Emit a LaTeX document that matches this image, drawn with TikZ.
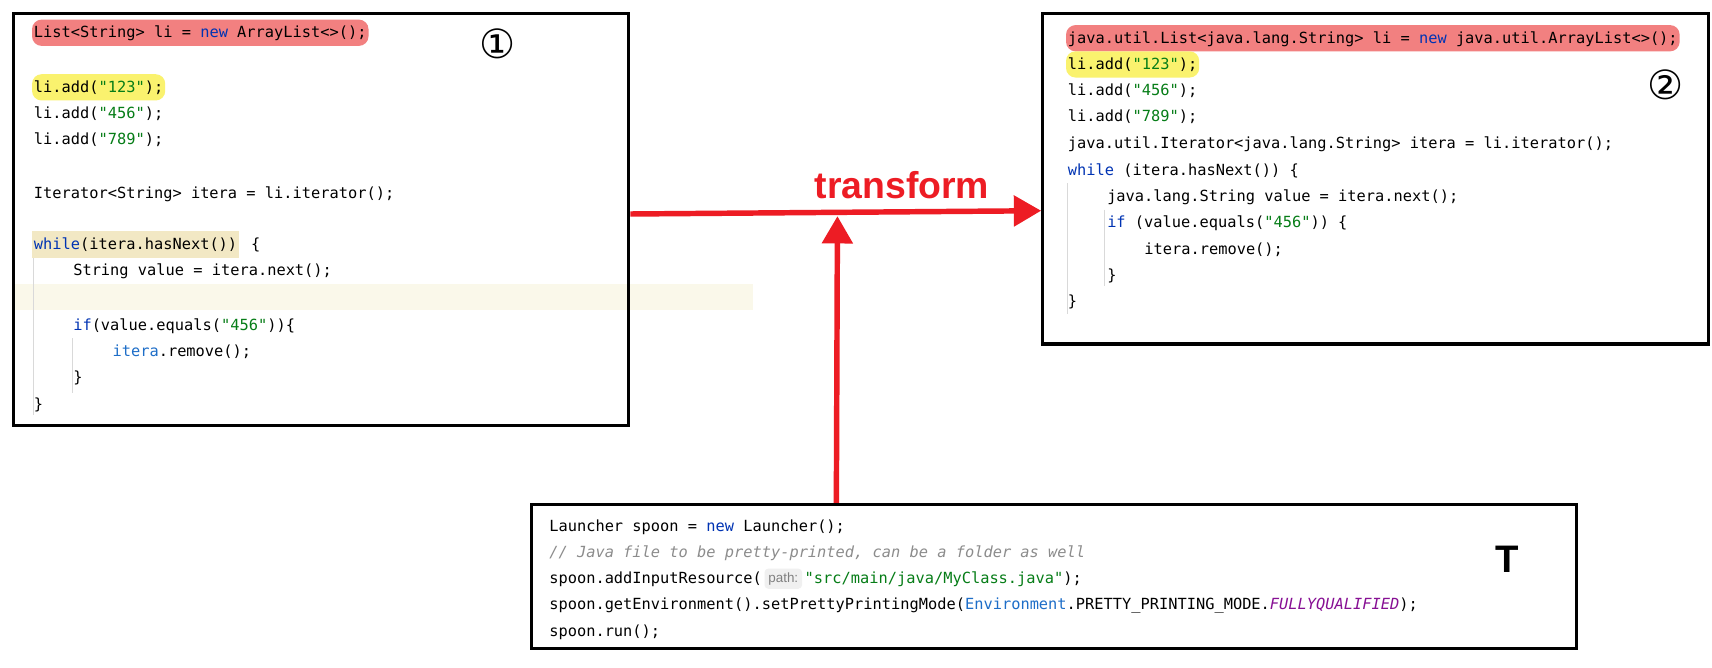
\documentclass[tikz,border=0pt]{standalone}
\usepackage{fontspec}
\setmainfont{Liberation Serif}
\setsansfont{Liberation Sans}
\setmonofont{DejaVu Sans Mono}
\newfontfamily\dvs{DejaVu Sans}
\usetikzlibrary{arrows.meta,calc}
\definecolor{kw}{RGB}{0,51,179}
\definecolor{st}{RGB}{6,125,23}
\definecolor{hlred}{RGB}{242,128,128}
\definecolor{hlyel}{RGB}{250,242,110}
\definecolor{hlbeige}{RGB}{242,232,196}
\definecolor{band}{RGB}{250,248,234}
\definecolor{arr}{RGB}{237,28,36}
\definecolor{envc}{RGB}{30,110,200}
\definecolor{purp}{RGB}{135,16,148}
\newcommand\kwd[1]{\textcolor{kw}{#1}}
\newcommand\strg[1]{\textcolor{st}{#1}}
\tikzset{
  code/.style={anchor=west,font=\ttfamily\fontsize{8}{10}\selectfont,inner xsep=1pt,inner ysep=2pt,text height=0.75em,text depth=0.22em},
  box/.style={draw,line width=1.7pt,inner sep=0pt},
  guide/.style={draw=black!15,line width=0.5pt},
  redarrow/.style={draw=arr,line width=0.1cm,-{Triangle[length=0.5cm,width=0.55cm]}},
  hl/.style={fill=#1,rounded corners=5pt}
}
\begin{document}
\begin{tikzpicture}[x=0.02cm,y=-0.02cm]
\fill[white] (0,0) rectangle (1568,611);
\useasboundingbox (0,0) rectangle (1568,611);
% band
\fill[band] (12,260) rectangle (690,284);
% boxes
\node[box,minimum width=11.28cm,minimum height=7.56cm] (b1) at (294,201) {};
\node[box,minimum width=12.2cm,minimum height=6.06cm] (b2) at (1260,163.5) {};
\node[box,minimum width=19.14cm,minimum height=2.64cm] (b3) at (965.5,528) {};
% box 1
\draw[guide] (31,236) -- (31,380);
\draw[guide] (66,310) -- (66,360);
\node[code,hl=hlred] (l1) at (29,30) {List<String> li = \kwd{new} ArrayList<>();};
\node[code,hl=hlyel] (l2) at (29,80) {li.add(\strg{"123"});};
\node[code] (l3) at (29,104) {li.add(\strg{"456"});};
\node[code] (l4) at (29,128) {li.add(\strg{"789"});};
\node[code] (l5) at (29,177) {Iterator<String> itera = li.iterator();};
\node[code,fill=hlbeige] (l6a) at (29,224) {\kwd{while}(itera.hasNext())};
\node[code] (l6b) at (l6a.east) {\ \{};
\node[code] (l7) at (65,248) {String value = itera.next();};
\node[code] (l8) at (65,298) {\kwd{if}(value.equals(\strg{"456"}))\{};
\node[code] (l9) at (101,322) {\textcolor{envc}{itera}.remove();};
\node[code] (l10) at (65,346) {\}};
\node[code] (l11) at (29,370) {\}};
\node[font=\dvs\fontsize{21}{24}\selectfont] (n1) at (456,40) {①};
% box 2
\draw[guide] (978,168) -- (978,288);
\draw[guide] (1012,192) -- (1012,262);
\node[code,hl=hlred] (r1) at (976,35) {java.util.List<java.lang.String> li = \kwd{new} java.util.ArrayList<>();};
\node[code,hl=hlyel] (r2) at (976,59) {li.add(\strg{"123"});};
\node[code] (r3) at (976,83) {li.add(\strg{"456"});};
\node[code] (r4) at (976,107) {li.add(\strg{"789"});};
\node[code] (r5) at (976,131) {java.util.Iterator<java.lang.String> itera = li.iterator();};
\node[code] (r6) at (976,156) {\kwd{while} (itera.hasNext()) \{};
\node[code] (r7) at (1012,180) {java.lang.String value = itera.next();};
\node[code] (r8) at (1012,204) {\kwd{if} (value.equals(\strg{"456"})) \{};
\node[code] (r9) at (1046,228) {itera.remove();};
\node[code] (r10) at (1012,252) {\}};
\node[code] (r11) at (976,276) {\}};
\node[font=\dvs\fontsize{21}{24}\selectfont] (n2) at (1525,78) {②};
% box 3
\node[code] (t1) at (501,482) {Launcher spoon = \kwd{new} Launcher();};
\node[code] (t2) at (501,506) {\textcolor{black!45}{\itshape // Java file to be pretty-printed, can be a folder as well}};
\node[code] (t3a) at (501,530) {spoon.addInputResource(};
\node[anchor=west,fill=black!6,rounded corners=2pt,inner xsep=2pt,inner ysep=2pt,font=\sffamily\fontsize{7}{8}\selectfont,text=black!50] (t3p) at (t3a.east) {path:};
\node[code] (t3b) at (t3p.east) {\strg{"src/main/java/MyClass.java"});};
\node[code] (t4) at (501,554) {spoon.getEnvironment().setPrettyPrintingMode(\textcolor{envc}{Environment}.PRETTY\_PRINTING\_MODE.\textcolor{purp}{\itshape FULLYQUALIFIED});};
\node[code] (t5) at (501,578) {spoon.run();};
\node[font=\sffamily\bfseries\fontsize{20}{22}\selectfont] (T) at (1380,512) {T};
% arrows
\coordinate (a1) at (b1.east |- 0,196);
\coordinate (a2) at (b2.west |- 0,193);
\draw[redarrow] (a1) -- (a2);
\node[font=\sffamily\bfseries\fontsize{19.5}{22}\selectfont,text=arr] (tr) at (826,170) {transform};
\coordinate (v1) at (b3.north -| 766,0);
\coordinate (v2) at (767,198);
\draw[redarrow] (v1) -- (v2);
\end{tikzpicture}
\end{document}
